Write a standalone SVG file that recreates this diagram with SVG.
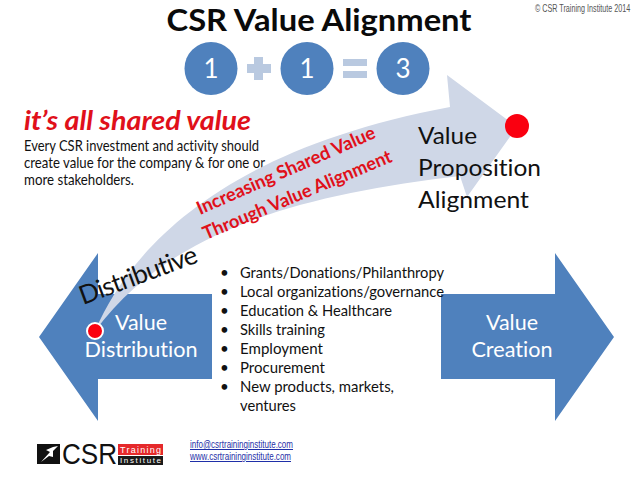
<svg xmlns="http://www.w3.org/2000/svg" width="638" height="478" viewBox="0 0 638 478">
<style>
text{font-family:"Lato","Carlito","Open Sans",sans-serif;font-variant-ligatures:none}
.blue{fill:#4f81bd}
.op{fill:#b9c9e0}
.w{fill:#fff;font-size:21px;text-anchor:middle}
.n{fill:#fff;font-size:26px;text-anchor:middle}
.k{fill:#111;font-size:24px}
.b{fill:#111;font-size:15.2px}
.r{fill:#e0101a;font-weight:700;font-size:18.5px}
.a{font-family:"Liberation Sans",Arial,sans-serif}
.l{font-family:"Liberation Sans",Arial,sans-serif;font-size:10px;fill:#1f2fa8;text-decoration:underline}
</style>
<rect width="638" height="478" fill="#fff"/>
<g id="title"><text x="319" y="31" font-size="31" font-weight="700" text-anchor="middle" fill="#0a0a0a" textLength="305" lengthAdjust="spacingAndGlyphs">CSR Value Alignment</text></g>
<text class="a" transform="translate(535 12) scale(.72 1)" font-size="10" fill="#555">© CSR Training Institute 2014</text>
<g id="equation">
<circle class="blue" cx="211" cy="68.5" r="26.5"/><text class="n" x="211" y="78">1</text>
<path class="op" d="M254 57h9v7h8v9h-8v7h-9v-7h-7v-9h7z"/>
<circle class="blue" cx="307" cy="68.5" r="26.5"/><text class="n" x="307" y="78">1</text>
<path class="op" d="M343 59h24v7h-24zM343 71h24v7h-24z"/>
<circle class="blue" cx="403" cy="68.5" r="26.5"/><text class="n" x="403" y="78">3</text>
</g>
<g id="intro">
<text x="24" y="130" font-size="27" font-weight="700" font-style="italic" fill="#e0101a" textLength="227" lengthAdjust="spacingAndGlyphs">it’s all shared value</text>
<text class="b" x="24" y="151" textLength="235" lengthAdjust="spacingAndGlyphs">Every CSR investment and activity should</text>
<text class="b" x="24" y="168" textLength="241" lengthAdjust="spacingAndGlyphs">create value for the company &amp; for one or</text>
<text class="b" x="24" y="185" textLength="110" lengthAdjust="spacingAndGlyphs">more stakeholders.</text>
</g>
<g id="value-distribution">
<path class="blue" d="M39 337L98 253V294H212V379H98V421Z"/>
<text class="w" x="141" y="330" textLength="52" lengthAdjust="spacingAndGlyphs">Value</text>
<text class="w" x="141" y="357" textLength="113" lengthAdjust="spacingAndGlyphs">Distribution</text>
</g>
<g id="value-creation">
<path class="blue" d="M441 294H555V253L614 337L555 421V379H441Z"/>
<text class="w" x="512" y="330" textLength="52" lengthAdjust="spacingAndGlyphs">Value</text>
<text class="w" x="512" y="357" textLength="81" lengthAdjust="spacingAndGlyphs">Creation</text>
</g>
<g id="connectors">
<path d="M95 331C130 250 220 150 450 107L447 75L517 127L467 197L460 176C300 195 170 230 95 331Z" fill="#cfd7e7"/>
</g>
<g id="curve-labels">
<text class="r" transform="translate(200 215) rotate(-23.7)" textLength="193" lengthAdjust="spacingAndGlyphs">Increasing Shared Value</text>
<text class="r" transform="translate(206 240) rotate(-22.8)" textLength="203" lengthAdjust="spacingAndGlyphs">Through Value Alignment</text>
<text transform="translate(83 305) rotate(-20.3)" font-size="26" fill="#111" textLength="124" lengthAdjust="spacing">Distributive</text>
</g>
<g id="value-proposition">
<circle cx="517" cy="126" r="12" fill="#fa0010"/>
<text class="k" x="418" y="144" textLength="59" lengthAdjust="spacingAndGlyphs">Value</text>
<text class="k" x="418" y="176" textLength="123" lengthAdjust="spacingAndGlyphs">Proposition</text>
<text class="k" x="418" y="208" textLength="111" lengthAdjust="spacingAndGlyphs">Alignment</text>
</g>
<circle cx="95" cy="331" r="8" fill="#fa0010" stroke="#fff" stroke-width="2"/>
<g id="list">
<text class="b" x="220" y="278">•</text><text class="b" x="240" y="278" textLength="204" lengthAdjust="spacingAndGlyphs">Grants/Donations/Philanthropy</text>
<text class="b" x="220" y="297">•</text><text class="b" x="240" y="297" textLength="204" lengthAdjust="spacingAndGlyphs">Local organizations/governance</text>
<text class="b" x="220" y="316">•</text><text class="b" x="240" y="316" textLength="152" lengthAdjust="spacingAndGlyphs">Education &amp; Healthcare</text>
<text class="b" x="220" y="335">•</text><text class="b" x="240" y="335" textLength="85" lengthAdjust="spacingAndGlyphs">Skills training</text>
<text class="b" x="220" y="354">•</text><text class="b" x="240" y="354" textLength="83" lengthAdjust="spacingAndGlyphs">Employment</text>
<text class="b" x="220" y="373">•</text><text class="b" x="240" y="373" textLength="85" lengthAdjust="spacingAndGlyphs">Procurement</text>
<text class="b" x="220" y="392">•</text><text class="b" x="240" y="392" textLength="154" lengthAdjust="spacingAndGlyphs">New products, markets,</text>
<text class="b" x="240" y="411" textLength="56" lengthAdjust="spacingAndGlyphs">ventures</text>
</g>
<g id="logo">
<rect x="37" y="444" width="23" height="20" fill="#111"/>
<path d="M41 462L50 452L46 450L53 447L58 446L53 451L53 457L49 456Z" fill="#fff"/>
<text class="a" x="62" y="464" font-size="29" fill="#111" textLength="55" lengthAdjust="spacingAndGlyphs">CSR</text>
<rect x="118" y="444" width="45" height="11" fill="#e5292b"/>
<rect x="118" y="456" width="45" height="9" fill="#1a1a1a"/>
<text class="a" x="120" y="453" font-size="9" fill="#fff" textLength="41" lengthAdjust="spacing">Training</text>
<text class="a" x="120" y="463" font-size="8" fill="#fff" textLength="41" lengthAdjust="spacing">Institute</text>
</g>
<g id="links">
<text class="l" x="190" y="448" textLength="103" lengthAdjust="spacingAndGlyphs">info@csrtraininginstitute.com</text>
<text class="l" x="190" y="460" textLength="101" lengthAdjust="spacingAndGlyphs">www.csrtraininginstitute.com</text>
</g>
</svg>
